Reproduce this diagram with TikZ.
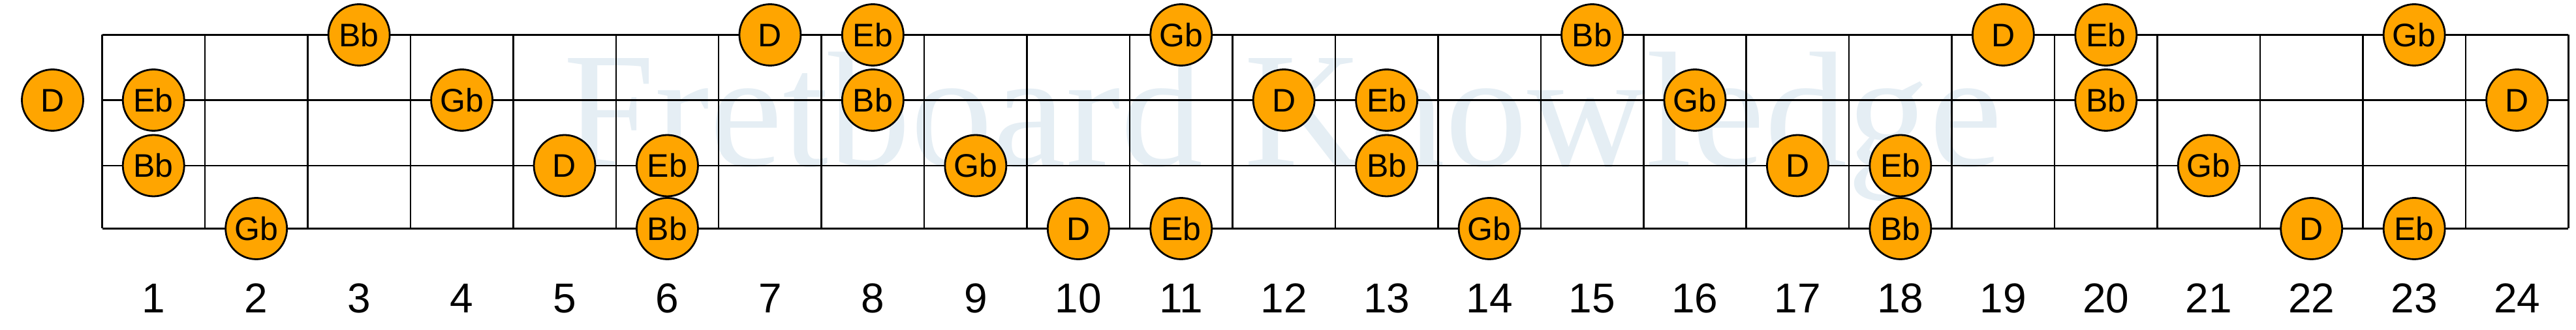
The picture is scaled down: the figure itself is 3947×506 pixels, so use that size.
\documentclass[tikz,border=0pt]{standalone}
\usepackage{fontspec}
\setmainfont{Liberation Sans}
\newfontfamily\wmfont{Liberation Serif}
\definecolor{wmcol}{RGB}{229,238,244}
\definecolor{noteorange}{RGB}{255,165,0}
\begin{document}
\begin{tikzpicture}[x=0.5pt,y=-0.5pt,
  gridline/.style={line width=1.25pt, black},
  note/.style={circle, draw=black, line width=1.4pt, fill=noteorange,
    minimum size=47pt, inner sep=0pt,
    font=\fontsize{25}{25}\selectfont, text height=17.9pt, text depth=0pt},
  fretnum/.style={font=\fontsize{32}{32}\selectfont, anchor=base},
  watermark/.style={font=\wmfont\fontsize{126}{126}\selectfont, text=wmcol, anchor=base}]
\useasboundingbox (0,0) rectangle (3947,506);
% watermark
\node[watermark] (wm) at (1966,255) {Fretboard Knowledge};
% frets
\foreach \k in {0,...,24}
  \draw[gridline] (156.5+\k*157.45,53.5) -- (156.5+\k*157.45,350.5);
% strings
\foreach \y in {53.5,153.5,254,350.5}
  \draw[gridline] (156.5,\y) -- (3935.3,\y);
% open string note
\node[note] (n-0-2) at (80.5,153.5) {D};
% fretted notes
\foreach \f/\s/\yy/\t in {
  1/2/153.5/Eb, 1/3/254/Bb, 2/4/350.5/Gb, 3/1/53.5/Bb, 4/2/153.5/Gb,
  5/3/254/D, 6/3/254/Eb, 6/4/350.5/Bb, 7/1/53.5/D, 8/1/53.5/Eb,
  8/2/153.5/Bb, 9/3/254/Gb, 10/4/350.5/D, 11/1/53.5/Gb, 11/4/350.5/Eb,
  12/2/153.5/D, 13/2/153.5/Eb, 13/3/254/Bb, 14/4/350.5/Gb, 15/1/53.5/Bb,
  16/2/153.5/Gb, 17/3/254/D, 18/3/254/Eb, 18/4/350.5/Bb, 19/1/53.5/D,
  20/1/53.5/Eb, 20/2/153.5/Bb, 21/3/254/Gb, 22/4/350.5/D, 23/1/53.5/Gb,
  23/4/350.5/Eb, 24/2/153.5/D}
  \node[note] (n-\f-\s) at (156.5+\f*157.45-78.725,\yy) {\t};
% fret numbers
\foreach \k in {1,...,24}
  \node[fretnum] (num\k) at (156.5+\k*157.45-78.725,480) {\k};
\end{tikzpicture}
\end{document}
